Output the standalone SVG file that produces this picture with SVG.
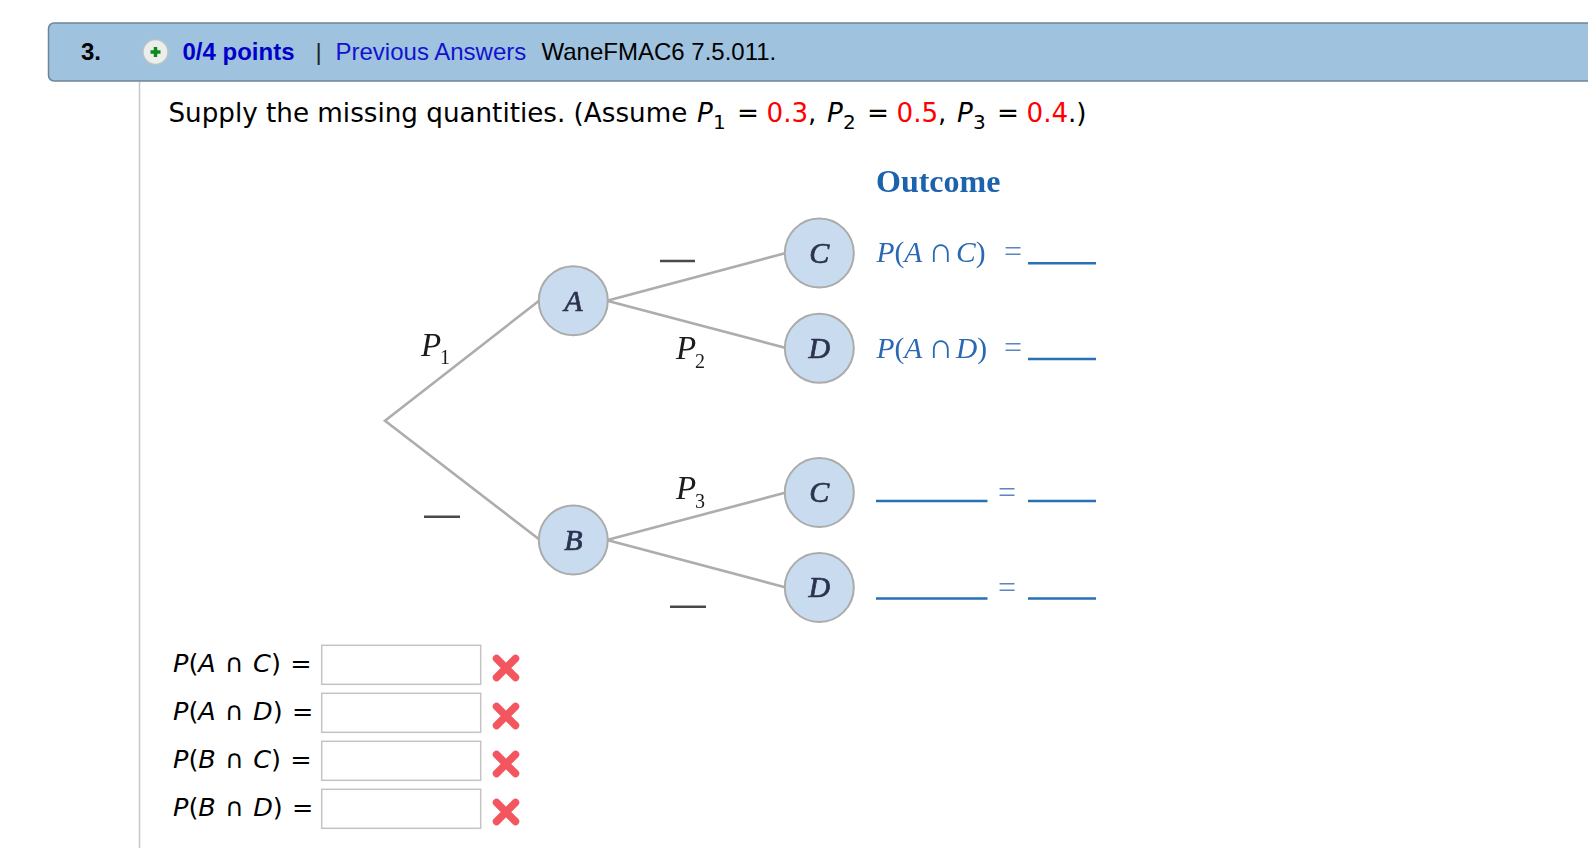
<svg xmlns="http://www.w3.org/2000/svg" width="1588" height="848" viewBox="0 0 1588 848">
<style>
.h{font-family:"Liberation Sans",Arial,sans-serif;font-size:24px}
.q{font-family:"DejaVu Sans",Verdana,sans-serif;font-size:26.2px;fill:#000}
.s{font-size:20px}
.i{font-style:italic}
.r{fill:#f00}
.a{font-family:"DejaVu Sans",Verdana,sans-serif;font-size:25.5px;fill:#000;word-spacing:1.2px}
.t{font-family:"Liberation Serif","Times New Roman",serif}
.lb{font-size:33px;fill:#1a1a1a;font-style:italic}
.sub{font-size:20px;fill:#1a1a1a}
.n{font-size:30px;font-style:italic;fill:#2c3350;stroke:#2c3350;stroke-width:.7;text-anchor:middle}
.o{font-size:29.500px;fill:#2a68b4}
.cap{font-size:35px}
.e{font-size:32px;fill:#5c86c0}
.node{fill:#c9dbef;stroke:#ababab;stroke-width:2}
.edge{stroke:#adadad;stroke-width:2.6;fill:none}
.dash{stroke:#4a4a4a;stroke-width:2.5}
.ul{stroke:#2a6fb4;stroke-width:2.5}
.box{fill:#fff;stroke:#c4c4c4;stroke-width:1.5}
.x{stroke:#f4575f;stroke-width:7.500;stroke-linecap:round;fill:none}
</style>
<defs>
<filter id="soft" x="-5%" y="-5%" width="110%" height="110%"><feGaussianBlur stdDeviation="0.55"/></filter>
<filter id="softx" x="-30%" y="-30%" width="160%" height="160%"><feGaussianBlur stdDeviation="0.7"/></filter>
<g id="cross"><path class="x" filter="url(#softx)" d="M-9.500 -9.500L9.500 9.500M9.500 -9.500L-9.500 9.500"/></g>
</defs>
<rect width="1588" height="848" fill="#fff"/>
<path d="M1600 23H54a5.500 5.500 0 0 0-5.500 5.500V75.500a5.500 5.500 0 0 0 5.500 5.500H1600Z" fill="#9fc2df" stroke="#6d8596" stroke-width="1.500"/>
<line x1="139.500" y1="82" x2="139.500" y2="848" stroke="#c8c8c8" stroke-width="1.500"/>
<text class="h" x="81" y="60" style="font-weight:bold">3.</text>
<circle cx="155.500" cy="52" r="12.500" fill="#eceeec" stroke="#b9c3c8" stroke-width="1.500"/>
<path d="M155.500 47V57M150.500 52H160.500" stroke="#0a8a1e" stroke-width="3.500"/>
<text class="h" x="182.500" y="60" fill="#0000c8" style="font-weight:bold">0/4 points</text>
<text class="h" x="315.500" y="60" fill="#222">|</text>
<text class="h" x="335.500" y="60" fill="#1212cf">Previous Answers</text>
<text class="h" x="541.500" y="60" fill="#000">WaneFMAC6 7.5.011.</text>

<text class="q" x="168.500" y="122">Supply the missing quantities. (Assume</text>
<text class="q i" x="697" y="122">P</text><text class="q s" x="713" y="129">1</text>
<text class="q" x="737" y="122">=</text><text class="q r" x="766.500" y="122">0.3</text><text class="q" x="808" y="122">,</text>
<text class="q i" x="827" y="122">P</text><text class="q s" x="843" y="129">2</text>
<text class="q" x="867" y="122">=</text><text class="q r" x="896.500" y="122">0.5</text><text class="q" x="938" y="122">,</text>
<text class="q i" x="957" y="122">P</text><text class="q s" x="973" y="129">3</text>
<text class="q" x="997" y="122">=</text><text class="q r" x="1026.500" y="122">0.4</text><text class="q" x="1068" y="122">.)</text>

<g id="connectors" filter="url(#soft)">
<path class="edge" d="M540 300L385 420.700L540 540"/>
<path class="edge" d="M607 300.700L786 253"/>
<path class="edge" d="M607 300.700L786 348"/>
<path class="edge" d="M607 540L786 492.500"/>
<path class="edge" d="M607 540L786 587.500"/>
</g>
<g id="node-A" filter="url(#soft)"><circle class="node" cx="573.300" cy="300.700" r="34.500"/><text class="t n" x="573.300" y="310.500">A</text></g>
<g id="node-B" filter="url(#soft)"><circle class="node" cx="573.300" cy="540" r="34.500"/><text class="t n" x="573.300" y="549.500">B</text></g>
<g id="node-C1" filter="url(#soft)"><circle class="node" cx="819.300" cy="253" r="34.500"/><text class="t n" x="819.300" y="262.500">C</text></g>
<g id="node-D1" filter="url(#soft)"><circle class="node" cx="819.300" cy="348.300" r="34.500"/><text class="t n" x="819.300" y="358">D</text></g>
<g id="node-C2" filter="url(#soft)"><circle class="node" cx="819.300" cy="492.500" r="34.500"/><text class="t n" x="819.300" y="502">C</text></g>
<g id="node-D2" filter="url(#soft)"><circle class="node" cx="819.300" cy="587.500" r="34.500"/><text class="t n" x="819.300" y="597">D</text></g>

<g id="labels" filter="url(#soft)">
<text class="t lb" x="421" y="356">P</text><text class="t sub" x="440" y="364">1</text>
<text class="t lb" x="676" y="359">P</text><text class="t sub" x="695" y="368">2</text>
<text class="t lb" x="676" y="499">P</text><text class="t sub" x="695" y="508">3</text>
<line class="dash" x1="660" y1="261" x2="695" y2="261"/>
<line class="dash" x1="424" y1="516.700" x2="460" y2="516.700"/>
<line class="dash" x1="670" y1="606.700" x2="706" y2="606.700"/>
<text class="t" x="876" y="192" font-size="32" font-weight="bold" fill="#1d63ad">Outcome</text>
<text class="t o" x="876.500" y="262"><tspan font-style="italic">P</tspan>(<tspan font-style="italic">A</tspan><tspan class="cap" x="928">∩</tspan><tspan x="956" font-style="italic">C</tspan>)</text>
<text class="t o" x="876.500" y="358"><tspan font-style="italic">P</tspan>(<tspan font-style="italic">A</tspan><tspan class="cap" x="928">∩</tspan><tspan x="956" font-style="italic">D</tspan>)</text>
<text class="t e" x="1004" y="262">=</text>
<text class="t e" x="1004" y="358">=</text>
<text class="t e" x="998" y="503">=</text>
<text class="t e" x="998" y="598">=</text>
<line class="ul" x1="1028" y1="263.300" x2="1096" y2="263.300"/>
<line class="ul" x1="1028" y1="359" x2="1096" y2="359"/>
<line class="ul" x1="876" y1="501" x2="987.500" y2="501"/>
<line class="ul" x1="1028" y1="501" x2="1096" y2="501"/>
<line class="ul" x1="876" y1="598.500" x2="987.500" y2="598.500"/>
<line class="ul" x1="1028" y1="598.500" x2="1096" y2="598.500"/>
</g>

<g id="answer-1">
<text class="a" x="173" y="671.500"><tspan font-style="italic">P</tspan>(<tspan font-style="italic">A</tspan> ∩ <tspan font-style="italic">C</tspan>) =</text>
<rect class="box" x="321.700" y="645.300" width="159" height="39"/>
<use href="#cross" x="506" y="668"/></g>
<g id="answer-2">
<text class="a" x="173" y="719.500"><tspan font-style="italic">P</tspan>(<tspan font-style="italic">A</tspan> ∩ <tspan font-style="italic">D</tspan>) =</text>
<rect class="box" x="321.700" y="693.300" width="159" height="39"/>
<use href="#cross" x="506" y="716"/></g>
<g id="answer-3">
<text class="a" x="173" y="767.500"><tspan font-style="italic">P</tspan>(<tspan font-style="italic">B</tspan> ∩ <tspan font-style="italic">C</tspan>) =</text>
<rect class="box" x="321.700" y="741.300" width="159" height="39"/>
<use href="#cross" x="506" y="764"/></g>
<g id="answer-4">
<text class="a" x="173" y="815.500"><tspan font-style="italic">P</tspan>(<tspan font-style="italic">B</tspan> ∩ <tspan font-style="italic">D</tspan>) =</text>
<rect class="box" x="321.700" y="789.300" width="159" height="39"/>
<use href="#cross" x="506" y="812"/></g>
</svg>
